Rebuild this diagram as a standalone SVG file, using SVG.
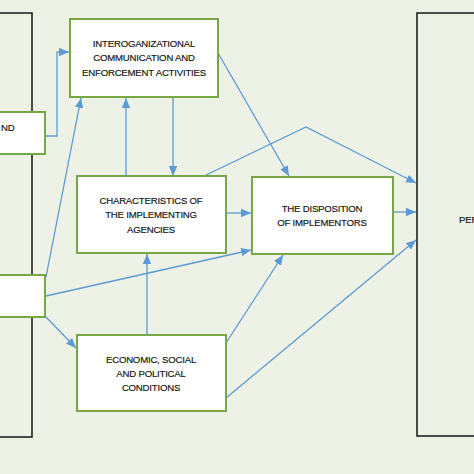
<svg xmlns="http://www.w3.org/2000/svg" width="474" height="474" viewBox="0 0 474 474">
<defs>
<marker id="ah" markerUnits="userSpaceOnUse" markerWidth="10" markerHeight="10" viewBox="0 0 10 10" refX="10" refY="5" orient="auto">
<path d="M0,0.8 L10,5 L0,9.2 Z" fill="#5b9bd5"/>
</marker>
<style>
.tall{fill:none;stroke:#222;stroke-width:1.6}
.box{fill:#fff;stroke:#77a843;stroke-width:2}
.t{font-family:"Liberation Sans",Arial,sans-serif;font-size:9.6px;letter-spacing:-0.2px;fill:#111;stroke:#111;stroke-width:0.15;text-anchor:middle}
.c{fill:none;stroke:#5b9bd5;stroke-width:1.3}
.a{marker-end:url(#ah)}
</style>
</defs>
<rect width="474" height="474" fill="#eef1e6"/>
<g id="left-frame"><rect class="tall" x="-10" y="13" width="42" height="424"/></g>
<g id="right-frame"><rect class="tall" x="417" y="13" width="70" height="423"/><text class="t" x="459" y="222.5" style="text-anchor:start">PERFORMANCE</text></g>
<g id="connectors">
<polyline class="c a" points="45,136 57,136 57,52 69,52"/>
<line class="c a" x1="46" y1="277" x2="81" y2="98"/>
<line class="c a" x1="126" y1="176" x2="126" y2="98"/>
<line class="c a" x1="173" y1="98" x2="173" y2="176"/>
<line class="c a" x1="218" y1="53" x2="289" y2="176"/>
<polyline class="c a" points="202,177 306,127 416,183"/>
<line class="c a" x1="226" y1="213" x2="251" y2="213"/>
<line class="c a" x1="393" y1="212" x2="416" y2="212"/>
<line class="c a" x1="46" y1="296" x2="251" y2="250"/>
<line class="c a" x1="147" y1="335" x2="147" y2="254"/>
<line class="c a" x1="226" y1="343" x2="283" y2="255"/>
<line class="c a" x1="226" y1="398" x2="416" y2="240"/>
<line class="c a" x1="46" y1="317" x2="76" y2="348"/>
</g>
<g id="node-left-mid"><rect class="box" x="-10" y="112" width="55" height="42"/><text class="t" x="1" y="130.5" style="text-anchor:start">ND</text></g>
<g id="node-left-bottom"><rect class="box" x="-10" y="275" width="55" height="42"/></g>
<g id="node-interorg"><rect class="box" x="70" y="19" width="148" height="78"/>
<text class="t" x="144" y="46.5">INTEROGANIZATIONAL</text>
<text class="t" x="144" y="61">COMMUNICATION AND</text>
<text class="t" x="144" y="75.5">ENFORCEMENT ACTIVITIES</text></g>
<g id="node-characteristics"><rect class="box" x="77" y="176" width="149" height="77"/>
<text class="t" x="151" y="203.5">CHARACTERISTICS OF</text>
<text class="t" x="151" y="218">THE IMPLEMENTING</text>
<text class="t" x="151" y="232.5">AGENCIES</text></g>
<g id="node-disposition"><rect class="box" x="252" y="177" width="141" height="77"/>
<text class="t" x="322" y="211.5">THE DISPOSITION</text>
<text class="t" x="322" y="226">OF IMPLEMENTORS</text></g>
<g id="node-economic"><rect class="box" x="77" y="335" width="149" height="76"/>
<text class="t" x="151" y="362.5">ECONOMIC, SOCIAL</text>
<text class="t" x="151" y="377">AND POLITICAL</text>
<text class="t" x="151" y="391">CONDITIONS</text></g>
</svg>
